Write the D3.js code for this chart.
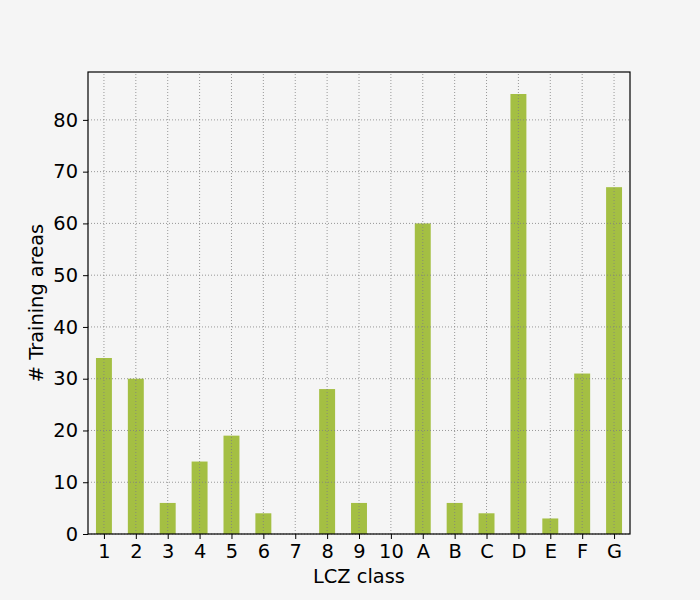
<!DOCTYPE html>
<html>
<head>
<meta charset="utf-8">
<script src="https://cdn.jsdelivr.net/npm/d3@7"></script>
<style>
  body { margin: 0; background: #f5f5f5; }
  text { font-family: "DejaVu Sans", sans-serif; }
</style>
</head>
<body>
<div class="canvas"></div>
<script>
// LCZ classes and counts of training areas
const classes = ['1','2','3','4','5','6','7','8','9','10','A','B','C','D','E','F','G'];
const counts = [34, 30, 6, 14, 19, 4, 0, 28, 6, 0, 60, 6, 4, 85, 3, 31, 67];
const yTicks = [0, 10, 20, 30, 40, 50, 60, 70, 80];

const width = 700, height = 600;
const margin = {left: 88, right: 70, top: 72, bottom: 66};
const fs = '19.4px';

const svg = d3.select('.canvas')
  .append('svg')
  .attr('width', width)
  .attr('height', height);

svg.append('rect')
    .attr('width', width)
    .attr('height', height)
    .attr('fill', '#f5f5f5');

const x = d3.scaleLinear()
    .domain([-0.5, classes.length - 0.5])
    .range([margin.left, width - margin.right]);

const y = d3.scaleLinear()
    .domain([0, d3.max(counts) * 1.05])
    .range([height - margin.bottom, margin.top]);

const plot = svg.append('g');

// bars
plot.selectAll('rect.bar')
  .data(counts)
  .join('rect')
    .attr('class', 'bar')
    .attr('x', (d, i) => x(i - 0.25))
    .attr('width', x(0.25) - x(-0.25))
    .attr('y', d => y(d))
    .attr('height', d => y(0) - y(d))
    .attr('fill', '#a4bf43');

// grid on top of bars
const grid = svg.append('g')
    .style('stroke', '#808080')
    .style('stroke-width', 0.8)
    .style('stroke-dasharray', '1,2');

grid.selectAll('line.v')
  .data(classes)
  .join('line')
    .attr('class', 'v')
    .attr('x1', (d, i) => x(i))
    .attr('x2', (d, i) => x(i))
    .attr('y1', y.range()[0])
    .attr('y2', y.range()[1]);

grid.selectAll('line.h')
  .data(yTicks)
  .join('line')
    .attr('class', 'h')
    .attr('x1', x.range()[0])
    .attr('x2', x.range()[1])
    .attr('y1', d => y(d))
    .attr('y2', d => y(d));

// axes
const xAxis = svg.append('g')
    .attr('transform', `translate(0,${height - margin.bottom})`)
    .call(d3.axisBottom(x)
      .tickValues(d3.range(classes.length))
      .tickFormat(i => classes[i])
      .tickSize(5)
      .tickPadding(5));

const yAxis = svg.append('g')
    .attr('transform', `translate(${margin.left},0)`)
    .call(d3.axisLeft(y)
      .tickValues(yTicks)
      .tickSize(5)
      .tickPadding(5));

[xAxis, yAxis].forEach(a => {
  a.attr('font-size', null).attr('font-family', null);
  a.select('.domain').remove();
  a.selectAll('.tick line').attr('stroke', '#000').attr('stroke-width', 1);
  a.selectAll('.tick text')
    .attr('fill', '#000')
    .style('font-size', fs);
});

// frame
svg.append('rect')
    .attr('x', x.range()[0])
    .attr('y', y.range()[1])
    .attr('width', x.range()[1] - x.range()[0])
    .attr('height', y.range()[0] - y.range()[1])
    .attr('fill', 'none')
    .attr('stroke', '#000')
    .attr('stroke-width', 1.2);

svg.append('text')
    .attr('x', (x.range()[0] + x.range()[1]) / 2)
    .attr('y', 583)
    .attr('text-anchor', 'middle')
    .style('font-size', fs)
    .text('LCZ class');

svg.append('text')
    .attr('transform', `translate(43,${(y.range()[0] + y.range()[1]) / 2}) rotate(-90)`)
    .attr('text-anchor', 'middle')
    .style('font-size', fs)
    .text('# Training areas');
</script>
</body>
</html>
